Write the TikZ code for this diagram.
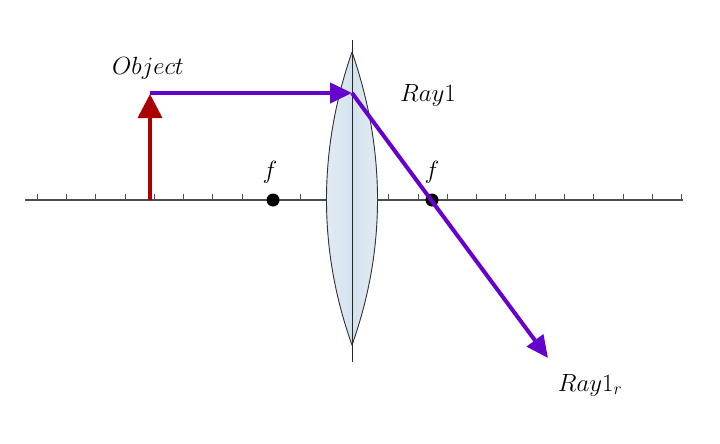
\documentclass[tikz,border=0pt]{standalone}
\usetikzlibrary{arrows.meta}
\begin{document}
\begin{tikzpicture}[x=1pt,y=-1pt,
  ray/.style={line width=4pt,draw={rgb,255:red,102;green,0;blue,204},-{Triangle[length=22pt,width=20pt]}},
  lbl/.style={font=\fontsize{26}{30}\selectfont}]
\useasboundingbox (0,0) rectangle (720,444);
\draw[line width=1.6pt,gray!60!black] (25,200) -- (683,200);
\foreach \i in {0,...,22} \draw[gray!60!black,line width=0.7pt] ({37+29.3*\i},200) -- ({37+29.3*\i},194);
\fill[left color={rgb,255:red,232;green,238;blue,245},right color={rgb,255:red,232;green,238;blue,245},middle color={rgb,255:red,212;green,226;blue,238}] (352,52) .. controls (318,150) and (318,250) .. (352,345) .. controls (386,250) and (386,150) .. (352,52);
\draw[gray!40!black,line width=0.9pt] (352,52) .. controls (318,150) and (318,250) .. (352,345) .. controls (386,250) and (386,150) .. (352,52);
\draw[gray!30!black,line width=0.9pt] (352,40) -- (352,362);
\draw[line width=3.5pt,draw={rgb,255:red,170;green,0;blue,0},-{Triangle[length=24pt,width=24pt]}] (150,200) -- (150,94);
\node[circle,fill=black,inner sep=0,minimum size=13pt] (f1) at (273,200) {};
\node[circle,fill=black,inner sep=0,minimum size=13pt] (f2) at (432,200) {};
\node[lbl] (f1l) at (270,172) {$f$};
\node[lbl] (f2l) at (432,172) {$f$};
\coordinate (o) at (150,93);
\coordinate (l) at (352,93);
\coordinate (e) at (548,358);
\draw[ray] (o) -- (l);
\draw[ray] (l) -- (e);
\node[lbl] (obj) at (148,68) {$Object$};
\node[lbl] (r1) at (428,95) {$Ray1$};
\node[lbl] (r2) at (590,385) {$Ray1_r$};
\end{tikzpicture}
\end{document}
